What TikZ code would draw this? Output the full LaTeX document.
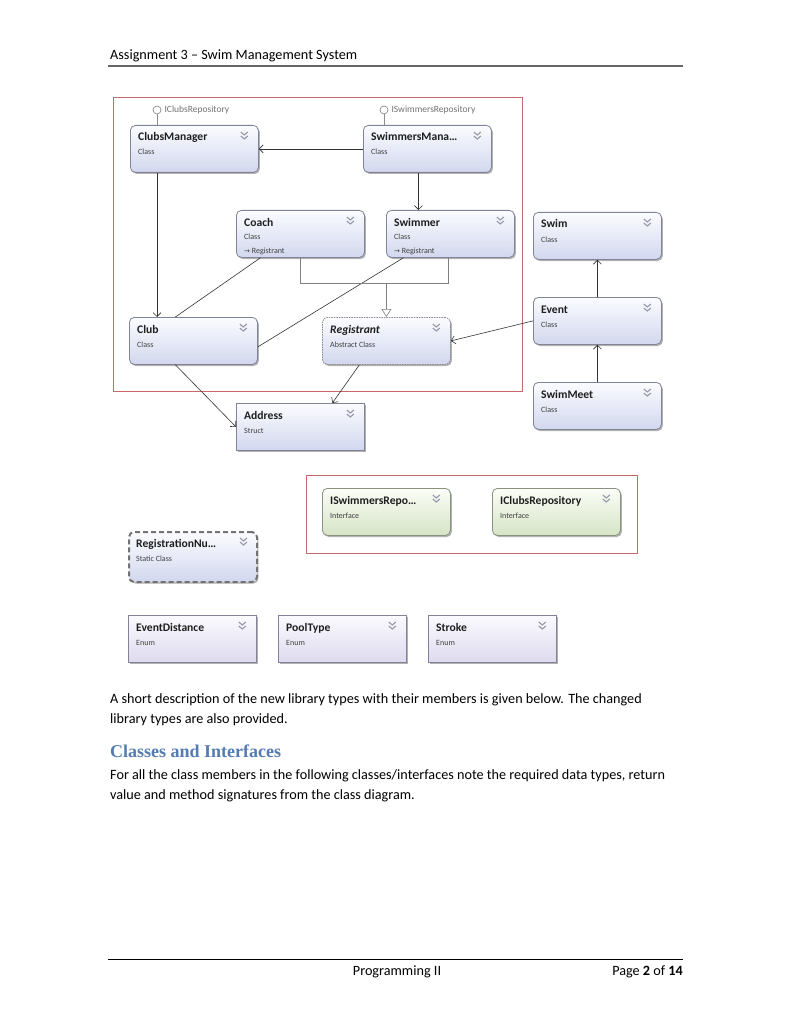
\documentclass[tikz,border=0pt]{standalone}
\usepackage{fontspec}
\setmainfont{Carlito}
\newfontfamily\headfont{Liberation Serif}
\newfontfamily\symfont{DejaVu Sans}
\usepackage{tikz}
\usetikzlibrary{shapes,arrows,arrows.meta,backgrounds,%
positioning,fit,calc,shadows%
}

\definecolor{redframe}{RGB}{200,104,104}
\definecolor{boxedge}{RGB}{128,132,150}
\definecolor{clstop}{RGB}{251,252,255}
\definecolor{clsbot}{RGB}{210,215,238}
\definecolor{ifctop}{RGB}{251,253,247}
\definecolor{ifcbot}{RGB}{214,228,198}
\definecolor{ifcedge}{RGB}{136,146,128}
\definecolor{enumtop}{RGB}{251,250,254}
\definecolor{enumbot}{RGB}{222,218,238}
\definecolor{chevcol}{RGB}{150,150,170}
\definecolor{headblue}{RGB}{84,124,178}

\tikzset{
  typebox/.style={anchor=north west,minimum width=128pt,minimum height=47pt,
    draw=boxedge,line width=0.8pt,rounded corners=5pt,
    top color=clstop,bottom color=clsbot,
    drop shadow={shadow xshift=1.4pt,shadow yshift=-1.6pt,fill=black,opacity=0.3}},
  structbox/.style={typebox,rounded corners=0pt},
  enumbox/.style={typebox,rounded corners=0pt,top color=enumtop,bottom color=enumbot},
  ifcbox/.style={typebox,draw=ifcedge,top color=ifctop,bottom color=ifcbot},
  abstractbox/.style={typebox,draw=black!45,dash pattern=on 1.5pt off 1pt},
  staticbox/.style={typebox,minimum height=50pt,draw=black!55,line width=2pt,
    dash pattern=on 5pt off 3pt},
  titletext/.style={anchor=base west,inner sep=0pt,text=black!88,
    font=\fontsize{11.6}{13}\selectfont\bfseries},
  kindtext/.style={anchor=base west,inner sep=0pt,text=black!75,
    font=\fontsize{8}{9}\selectfont},
  chev/.style={draw=chevcol,line width=1.1pt},
  assoc/.style={draw=black!80,line width=0.6pt},
  inherit/.style={draw=black!50,line width=0.6pt},
  lolli/.style={draw,circle,black!45,line width=0.7pt,minimum size=8pt,inner sep=0pt},
  lollitext/.style={text=black!55,font=\fontsize{9.5}{11}\selectfont},
  bodytext/.style={anchor=base west,inner sep=0pt,font=\fontsize{14.2}{17}\selectfont},
}

% box with title, kind and chevron
\newcommand{\umlbox}[6]{%
  \node (#1) at (#2,#3) [#4] {};
  \node [titletext] at ([shift={(8,16)}]#1.north west) {#5};
  \node [kindtext] at ([shift={(8,30)}]#1.north west) {#6};
  \draw [chev] ([shift={(-18,7)}]#1.north east) -- ++(3.5,3) -- ++(3.5,-3)
               ([shift={(-18,11)}]#1.north east) -- ++(3.5,3) -- ++(3.5,-3);
}

\begin{document}
\begin{tikzpicture}[x=1pt,y=-1pt,>={Straight Barb[length=4pt,width=8pt]}]
\useasboundingbox (0,0) rectangle (791,1024);
\fill[white] (0,0) rectangle (791,1024);
%%
\node (header) [bodytext] at (110,60) {Assignment 3 -- Swim Management System};
\draw [black!60,line width=1.2pt] (108,66) -- (683,66);
%
\draw [redframe,line width=0.8pt] (113,97) rectangle (522,391);
\draw [redframe,line width=0.8pt] (306,475) rectangle (637,553);
%
\umlbox{clubsmgr}{130}{125}{typebox}{ClubsManager}{Class}
\umlbox{swimmgr}{363}{125}{typebox}{SwimmersMana\dots}{Class}
\umlbox{coach}{236}{210}{typebox}{Coach}{Class}
\umlbox{swimmer}{386}{210}{typebox}{Swimmer}{Class}
\node [kindtext] at ([shift={(8,43)}]coach.north west) {{\symfont\fontsize{7}{9}\selectfont →} Registrant};
\node [kindtext] at ([shift={(8,43)}]swimmer.north west) {{\symfont\fontsize{7}{9}\selectfont →} Registrant};
\umlbox{club}{129}{317}{typebox}{Club}{Class}
\umlbox{registrant}{322}{317}{abstractbox}{\itshape Registrant}{Abstract Class}
\umlbox{address}{236}{403}{structbox}{Address}{Struct}
\umlbox{swim}{533}{212}{typebox}{Swim}{Class}
\umlbox{event}{533}{297}{typebox}{Event}{Class}
\umlbox{swimmeet}{533}{382}{typebox}{SwimMeet}{Class}
\umlbox{iswimrepo}{322}{488}{ifcbox}{ISwimmersRepo\dots}{Interface}
\umlbox{iclubrepo}{492}{488}{ifcbox}{IClubsRepository}{Interface}
\umlbox{regnum}{128}{531}{staticbox}{RegistrationNu\dots}{Static Class}
\umlbox{evdist}{128}{615}{enumbox}{EventDistance}{Enum}
\umlbox{pooltype}{278}{615}{enumbox}{PoolType}{Enum}
\umlbox{stroke}{428}{615}{enumbox}{Stroke}{Enum}
%
\node (iclubs) at (157,110) [lolli,label={[lollitext,anchor=west,inner sep=3pt]right:IClubsRepository}] {};
\node (iswims) at (384,110) [lolli,label={[lollitext,anchor=west,inner sep=3pt]right:ISwimmersRepository}] {};
\draw [black!45,line width=0.7pt] (iclubs) -- (iclubs |- clubsmgr.north);
\draw [black!45,line width=0.7pt] (iswims) -- (iswims |- swimmgr.north);
%
\draw [assoc,->] (swimmgr.west) -- (clubsmgr.east);
\draw [assoc,->] ([xshift=-9pt]swimmgr.south) -- ([xshift=-9pt]swimmgr.south |- swimmer.north);
\draw [assoc,->] (iclubs |- clubsmgr.south) -- (iclubs |- club.north);
\draw [assoc] ([xshift=-40pt]coach.south) -- ([xshift=-18pt]club.north);
\draw [assoc] ([xshift=-47pt]swimmer.south) -- ([yshift=-6pt]club.east);
\draw [inherit] ([xshift=0pt]coach.south) -- ++(0,25) coordinate (genleft)
      -| ([xshift=-2pt]swimmer.south);
\draw [inherit,-{Triangle[open,length=8pt,width=10pt]}] (registrant.north |- genleft) -- (registrant.north);
\draw [assoc,->] (event.west) -- (registrant.east);
\draw [assoc,->] (event.north) -- (swim.south);
\draw [assoc,->] (swimmeet.north) -- (event.south);
\draw [assoc,->] ([xshift=-27pt]registrant.south) -- ([xshift=32pt]address.north);
\draw [assoc,->] ([xshift=-18pt]club.south) -- (address.west);
%
\node (para1) [bodytext] at (110,703) {A short description of the new library types with their members is given below. The changed};
\node (para2) [bodytext] at (110,723) {library types are also provided.};
\node (heading) [anchor=base west,inner sep=0pt,text=headblue,font=\headfont\fontsize{18}{21}\selectfont\bfseries] at (110,757) {Classes and Interfaces};
\node (para3) [bodytext] at (110,779) {For all the class members in the following classes/interfaces note the required data types, return};
\node (para4) [bodytext] at (110,799) {value and method signatures from the class diagram.};
%
\draw [black,line width=0.6pt] (108,959) -- (683,959);
\node (course) [anchor=base,inner sep=0pt,font=\fontsize{14.2}{17}\selectfont] at (397,975) {Programming II};
\node (pageno) [anchor=base east,inner sep=0pt,font=\fontsize{14.2}{17}\selectfont] at (683,975) {Page \textbf{2} of \textbf{14}};
%
\end{tikzpicture}
\end{document}
